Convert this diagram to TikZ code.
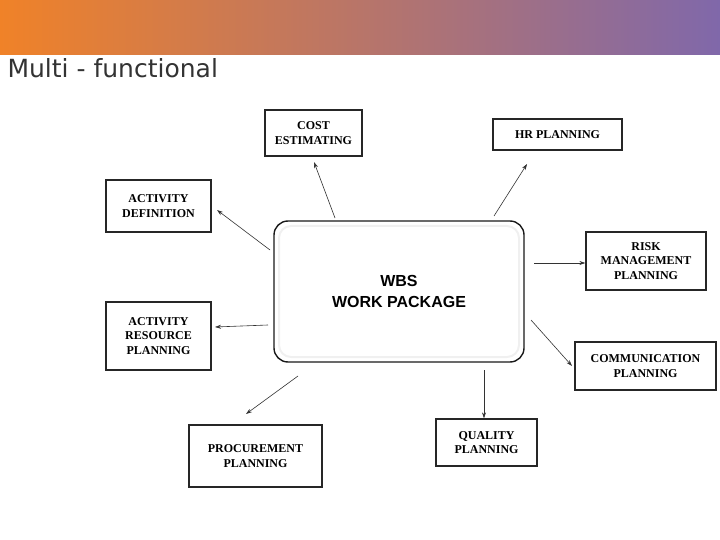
\documentclass[tikz,border=0pt]{standalone}
\usepackage{fontspec}
\setmainfont{Liberation Serif}
\newfontfamily\titlefont{DejaVu Sans}
\newfontfamily\wbsfont{Liberation Sans}
\usetikzlibrary{arrows.meta}
\definecolor{orA}{HTML}{F08228}
\definecolor{puB}{HTML}{8068AA}
\begin{document}
\begin{tikzpicture}[x=1pt,y=-1pt,
  box/.style={draw=black!85,line width=1.4pt,align=center,font=\bfseries\fontsize{12}{14.5}\selectfont,inner sep=0pt},
  arr/.style={-{Stealth[length=6pt,width=4pt]},line width=0.6pt,black!80}]
\useasboundingbox (0,0) rectangle (720,540);
\fill[left color=orA,right color=puB] (0,0) rectangle (720,55);
\node[anchor=west,text=black!80,font=\titlefont\fontsize{25}{28}\selectfont] (title) at (4,68) {Multi - functional};
\node[draw=black!90,line width=1.4pt,rounded corners=14pt,minimum width=250pt,minimum height=141pt,
  font=\wbsfont\bfseries\fontsize{16}{21}\selectfont,align=center] (wbs) at (399,291.5) {WBS\\WORK PACKAGE};
\node[draw=black!6,line width=2pt,rounded corners=12pt,minimum width=240pt,minimum height=131pt] (wbsin) at (399,291.5) {};
\node[box,minimum width=97pt,minimum height=46pt] (cost) at (313.5,133) {COST\\ESTIMATING};
\node[box,minimum width=129pt,minimum height=31pt] (hr) at (557.5,134.5) {HR PLANNING};
\node[box,minimum width=105pt,minimum height=52pt] (ad) at (158.5,206) {ACTIVITY\\DEFINITION};
\node[box,minimum width=120pt,minimum height=58pt] (risk) at (646,261) {RISK\\MANAGEMENT\\PLANNING};
\node[box,minimum width=105pt,minimum height=68pt] (arp) at (158.5,336) {ACTIVITY\\RESOURCE\\PLANNING};
\node[box,minimum width=141pt,minimum height=48pt] (comm) at (645.5,366) {COMMUNICATION\\PLANNING};
\node[box,minimum width=133pt,minimum height=62pt] (proc) at (255.5,456) {PROCUREMENT\\PLANNING};
\node[box,minimum width=101pt,minimum height=47pt] (qual) at (486.5,442.5) {QUALITY\\PLANNING};
\coordinate (c1) at (335,218);
\coordinate (c2) at (494,216);
\coordinate (c3) at (270,250);
\coordinate (c4) at (534,263);
\coordinate (c5) at (268,325);
\coordinate (c6) at (531,320);
\coordinate (c7) at (298,376);
\coordinate (c8) at (484,370);
\draw[arr] (c1) -- (314,162);
\draw[arr] (c2) -- (527,164);
\draw[arr] (c3) -- (217,210);
\draw[arr] (c4) -- (risk.west |- c4);
\draw[arr] (c5) -- (215,327);
\draw[arr] (c6) -- (572,366);
\draw[arr] (c7) -- (246,414);
\draw[arr] (c8) -- (qual.north -| c8);
\end{tikzpicture}
\end{document}
